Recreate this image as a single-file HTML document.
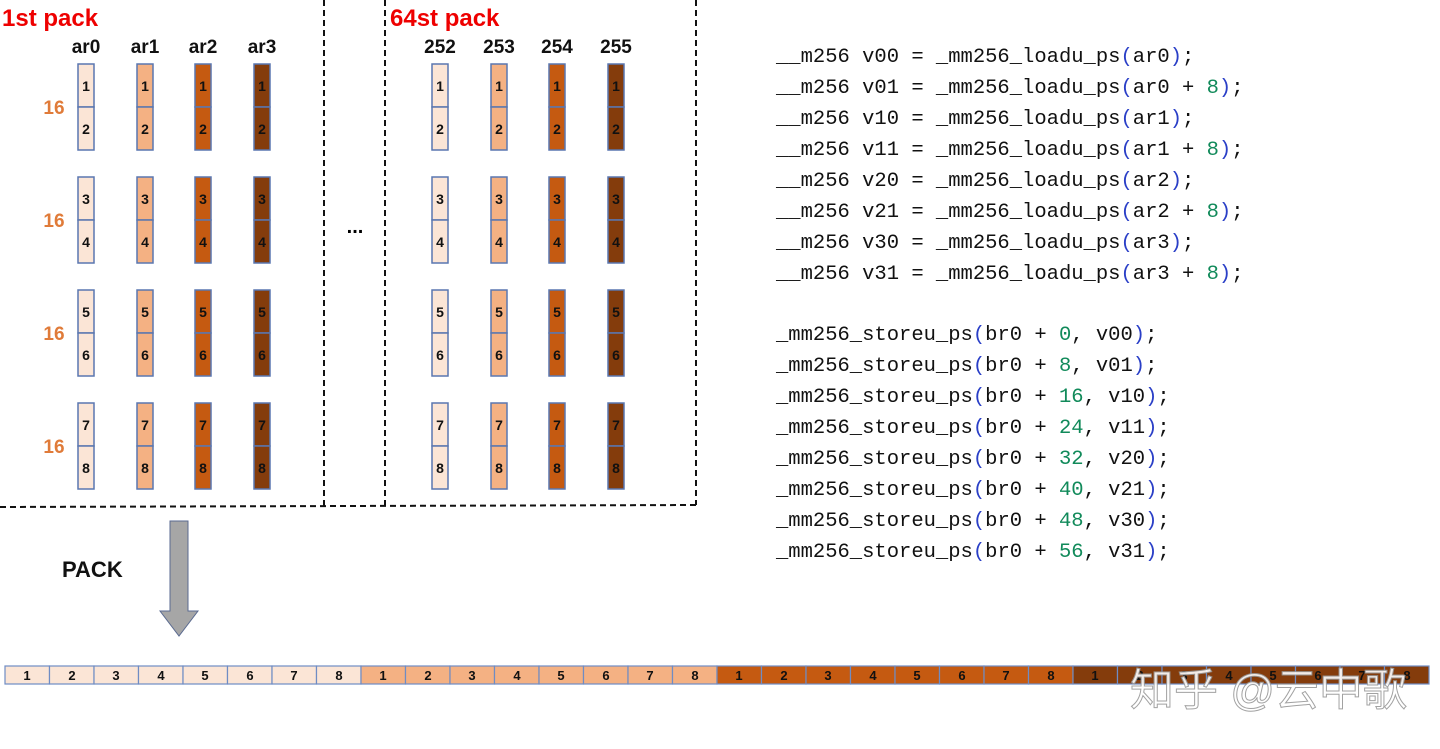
<!DOCTYPE html>
<html><head><meta charset="utf-8"><style>
html,body{margin:0;padding:0;background:#fff;width:1440px;height:749px;overflow:hidden;position:relative}
svg{position:absolute;left:0;top:0}
.code{position:absolute;left:776px;font-family:"Liberation Mono",monospace;font-size:20.5px;line-height:31px;color:#111;white-space:pre}
.b{color:#2a3fc7}.g{color:#118a5a}
</style></head><body>
<svg width="1440" height="749" xmlns="http://www.w3.org/2000/svg" font-family="Liberation Sans, sans-serif">
<g stroke="#111" stroke-width="2" stroke-dasharray="6,4" fill="none">
<line x1="324" y1="0" x2="324" y2="507"/>
<line x1="385" y1="0" x2="385" y2="507"/>
<line x1="696" y1="0" x2="696" y2="505"/>
<line x1="0" y1="507" x2="696" y2="505"/>
</g>
<text x="2" y="26" font-size="24" font-weight="bold" fill="#e00">1st pack</text>
<text x="390" y="26" font-size="24" font-weight="bold" fill="#e00">64st pack</text>
<g font-size="19" font-weight="bold" fill="#111" text-anchor="middle">
<text x="86" y="53">ar0</text><text x="145" y="53">ar1</text><text x="203" y="53">ar2</text><text x="262" y="53">ar3</text>
<text x="440" y="53">252</text><text x="499" y="53">253</text><text x="557" y="53">254</text><text x="616" y="53">255</text>
</g>
<g font-size="19" font-weight="bold" fill="#e07b39" text-anchor="middle">
<text x="54" y="114">16</text><text x="54" y="227">16</text><text x="54" y="340">16</text><text x="54" y="453">16</text>
</g>
<text x="355" y="233" font-size="20" font-weight="bold" text-anchor="middle">...</text>
<defs>
<g id="col">
<rect x="0" y="64" width="16" height="43"/><rect x="0" y="107" width="16" height="43"/>
<rect x="0" y="177" width="16" height="43"/><rect x="0" y="220" width="16" height="43"/>
<rect x="0" y="290" width="16" height="43"/><rect x="0" y="333" width="16" height="43"/>
<rect x="0" y="403" width="16" height="43"/><rect x="0" y="446" width="16" height="43"/>
</g>
</defs>
<g stroke="#5a77b0" stroke-width="1.5">
<use href="#col" x="78" fill="#fbe5d6"/><use href="#col" x="137" fill="#f4b183"/><use href="#col" x="195" fill="#c55a11"/><use href="#col" x="254" fill="#843c0c"/>
<use href="#col" x="432" fill="#fbe5d6"/><use href="#col" x="491" fill="#f4b183"/><use href="#col" x="549" fill="#c55a11"/><use href="#col" x="608" fill="#843c0c"/>
</g>
<g font-size="14" font-weight="bold" fill="#111" text-anchor="middle">
<text x="86" y="91">1</text><text x="86" y="134">2</text><text x="86" y="204">3</text><text x="86" y="247">4</text><text x="86" y="317">5</text><text x="86" y="360">6</text><text x="86" y="430">7</text><text x="86" y="473">8</text>
<text x="145" y="91">1</text><text x="145" y="134">2</text><text x="145" y="204">3</text><text x="145" y="247">4</text><text x="145" y="317">5</text><text x="145" y="360">6</text><text x="145" y="430">7</text><text x="145" y="473">8</text>
<text x="203" y="91">1</text><text x="203" y="134">2</text><text x="203" y="204">3</text><text x="203" y="247">4</text><text x="203" y="317">5</text><text x="203" y="360">6</text><text x="203" y="430">7</text><text x="203" y="473">8</text>
<text x="262" y="91">1</text><text x="262" y="134">2</text><text x="262" y="204">3</text><text x="262" y="247">4</text><text x="262" y="317">5</text><text x="262" y="360">6</text><text x="262" y="430">7</text><text x="262" y="473">8</text>
<text x="440" y="91">1</text><text x="440" y="134">2</text><text x="440" y="204">3</text><text x="440" y="247">4</text><text x="440" y="317">5</text><text x="440" y="360">6</text><text x="440" y="430">7</text><text x="440" y="473">8</text>
<text x="499" y="91">1</text><text x="499" y="134">2</text><text x="499" y="204">3</text><text x="499" y="247">4</text><text x="499" y="317">5</text><text x="499" y="360">6</text><text x="499" y="430">7</text><text x="499" y="473">8</text>
<text x="557" y="91">1</text><text x="557" y="134">2</text><text x="557" y="204">3</text><text x="557" y="247">4</text><text x="557" y="317">5</text><text x="557" y="360">6</text><text x="557" y="430">7</text><text x="557" y="473">8</text>
<text x="616" y="91">1</text><text x="616" y="134">2</text><text x="616" y="204">3</text><text x="616" y="247">4</text><text x="616" y="317">5</text><text x="616" y="360">6</text><text x="616" y="430">7</text><text x="616" y="473">8</text>
</g>
<text x="62" y="577" font-size="22" font-weight="bold" fill="#111">PACK</text>
<polygon points="170,521 188,521 188,611 198,611 179,636 160,611 170,611" fill="#a6a6a6" stroke="#5a6a90" stroke-width="1"/>
<defs>
<g id="bar">
<rect x="0" width="44.5" height="18"/><rect x="44.5" width="44.5" height="18"/><rect x="89" width="44.5" height="18"/><rect x="133.5" width="44.5" height="18"/>
<rect x="178" width="44.5" height="18"/><rect x="222.5" width="44.5" height="18"/><rect x="267" width="44.5" height="18"/><rect x="311.5" width="44.5" height="18"/>
</g>
</defs>
<g stroke="#6f8cc4" stroke-width="1.2">
<use href="#bar" x="5" y="666" fill="#fbe5d6"/><use href="#bar" x="361" y="666" fill="#f4b183"/><use href="#bar" x="717" y="666" fill="#c55a11"/><use href="#bar" x="1073" y="666" fill="#843c0c"/>
</g>
<g font-size="13" font-weight="bold" fill="#111" text-anchor="middle">
<text x="27" y="680">1</text><text x="72" y="680">2</text><text x="116" y="680">3</text><text x="161" y="680">4</text><text x="205" y="680">5</text><text x="250" y="680">6</text><text x="294" y="680">7</text><text x="339" y="680">8</text>
<text x="383" y="680">1</text><text x="428" y="680">2</text><text x="472" y="680">3</text><text x="517" y="680">4</text><text x="561" y="680">5</text><text x="606" y="680">6</text><text x="650" y="680">7</text><text x="695" y="680">8</text>
<text x="739" y="680">1</text><text x="784" y="680">2</text><text x="828" y="680">3</text><text x="873" y="680">4</text><text x="917" y="680">5</text><text x="962" y="680">6</text><text x="1006" y="680">7</text><text x="1051" y="680">8</text>
<text x="1095" y="680">1</text><text x="1140" y="680">2</text><text x="1184" y="680">3</text><text x="1229" y="680">4</text><text x="1273" y="680">5</text><text x="1318" y="680">6</text><text x="1362" y="680">7</text><text x="1407" y="680">8</text>
</g>
<text x="1130" y="705" font-size="44" fill="#fff" stroke="#999" stroke-width="1" font-family="Liberation Sans, Noto Sans CJK SC, sans-serif" opacity="0.9">知乎 @云中歌</text>
</svg>
<div class="code" style="top:42px">__m256 v00 = _mm256_loadu_ps<span class="b">(</span>ar0<span class="b">)</span>;
__m256 v01 = _mm256_loadu_ps<span class="b">(</span>ar0 + <span class="g">8</span><span class="b">)</span>;
__m256 v10 = _mm256_loadu_ps<span class="b">(</span>ar1<span class="b">)</span>;
__m256 v11 = _mm256_loadu_ps<span class="b">(</span>ar1 + <span class="g">8</span><span class="b">)</span>;
__m256 v20 = _mm256_loadu_ps<span class="b">(</span>ar2<span class="b">)</span>;
__m256 v21 = _mm256_loadu_ps<span class="b">(</span>ar2 + <span class="g">8</span><span class="b">)</span>;
__m256 v30 = _mm256_loadu_ps<span class="b">(</span>ar3<span class="b">)</span>;
__m256 v31 = _mm256_loadu_ps<span class="b">(</span>ar3 + <span class="g">8</span><span class="b">)</span>;</div>
<div class="code" style="top:320px">_mm256_storeu_ps<span class="b">(</span>br0 + <span class="g">0</span>, v00<span class="b">)</span>;
_mm256_storeu_ps<span class="b">(</span>br0 + <span class="g">8</span>, v01<span class="b">)</span>;
_mm256_storeu_ps<span class="b">(</span>br0 + <span class="g">16</span>, v10<span class="b">)</span>;
_mm256_storeu_ps<span class="b">(</span>br0 + <span class="g">24</span>, v11<span class="b">)</span>;
_mm256_storeu_ps<span class="b">(</span>br0 + <span class="g">32</span>, v20<span class="b">)</span>;
_mm256_storeu_ps<span class="b">(</span>br0 + <span class="g">40</span>, v21<span class="b">)</span>;
_mm256_storeu_ps<span class="b">(</span>br0 + <span class="g">48</span>, v30<span class="b">)</span>;
_mm256_storeu_ps<span class="b">(</span>br0 + <span class="g">56</span>, v31<span class="b">)</span>;</div>
</body></html>
